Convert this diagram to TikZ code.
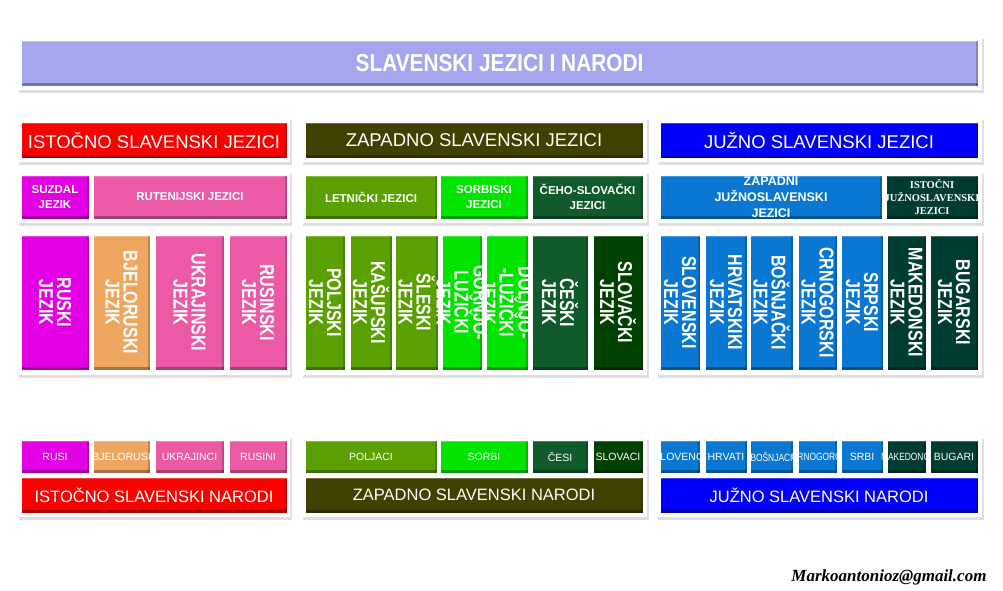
\documentclass[tikz,border=0pt]{standalone}
\usepackage{fontspec}
\setmainfont{Liberation Sans}
\newfontfamily\narrowfont[FakeStretch=0.8]{Liberation Sans}
\newfontfamily\titlefont[FakeStretch=0.85]{Liberation Sans}
\newfontfamily\seriffont{Liberation Serif}
\usetikzlibrary{shadows}

\definecolor{titlec}{RGB}{166,166,238}
\definecolor{eastc}{RGB}{250,0,0}
\definecolor{westc}{RGB}{64,64,0}
\definecolor{southc}{RGB}{0,0,250}
\definecolor{magc}{RGB}{228,0,228}
\definecolor{pinkc}{RGB}{236,90,166}
\definecolor{tanc}{RGB}{238,166,96}
\definecolor{grnc}{RGB}{90,160,0}
\definecolor{limec}{RGB}{0,228,0}
\definecolor{dgrnc}{RGB}{16,90,44}
\definecolor{vdgrnc}{RGB}{0,64,0}
\definecolor{bluec}{RGB}{10,120,210}
\definecolor{tealc}{RGB}{0,60,50}

\tikzset{
  frame/.style={fill=white, drop shadow={shadow xshift=1.5pt, shadow yshift=-2.5pt, opacity=.25}},
  tile/.style={draw=white, line width=1pt, inner sep=0pt,
    path picture={
      \fill[white,opacity=.25] (path picture bounding box.north west) rectangle ([yshift=-2pt]path picture bounding box.north east);
      \fill[black,opacity=.3] ([yshift=3pt]path picture bounding box.south west) rectangle (path picture bounding box.south east);
      \fill[black,opacity=.2] ([xshift=-2pt]path picture bounding box.north east) rectangle (path picture bounding box.south east);
    }},
  titletext/.style={text=white, font=\titlefont\bfseries\fontsize{24.5}{26}\selectfont},
  headtext/.style={text=white, font=\fontsize{18.5}{20}\selectfont},
  nartext/.style={text=white, font=\fontsize{16.5}{18}\selectfont},
  subtext/.style={text=white, align=center, font=\bfseries\fontsize{11.5}{15}\selectfont},
  coltext/.style={text=white, align=center, rotate=-90, font=\narrowfont\bfseries\fontsize{20}{18}\selectfont},
  smalltext/.style={text=white, font=\fontsize{10.5}{12}\selectfont},
}

% tile: name, x1, y1, x2, y2, colour
\newcommand{\tilebox}[6]{%
  \node[tile, fill=#6, minimum width={(#4-#2)*1pt}, minimum height={(#5-#3)*1pt}]
    (#1) at ({(#2+#4)/2},{(#3+#5)/2}) {};}

\begin{document}
\begin{tikzpicture}[x=1pt,y=-1pt]
\useasboundingbox (0,0) rectangle (1003,590);

% white frames behind the rows
\path[frame] (17,36) rectangle (982,90);
\foreach \xa/\xb in {17/290, 301/647, 656/982}{
  \path[frame] (\xa,117) rectangle (\xb,162);
  \path[frame] (\xa,171) rectangle (\xb,223);
  \path[frame] (\xa,230) rectangle (\xb,375);
  \path[frame] (\xa,436) rectangle (\xb,517);
}

% title
\tilebox{title}{21}{40}{978}{86}{titlec}
\node[titletext] (title-t) at (title) {SLAVENSKI JEZICI I NARODI};

% the three group headers
\tilebox{east}{21}{122}{287}{158}{eastc}
\node[headtext] (east-t) at (east) {ISTOČNO SLAVENSKI JEZICI};
\tilebox{west}{305}{122}{643}{158}{westc}
\node[headtext] (west-t) at (west) {ZAPADNO SLAVENSKI JEZICI};
\tilebox{south}{660}{122}{978}{158}{southc}
\node[headtext] (south-t) at (south) {JUŽNO SLAVENSKI JEZICI};

% subgroups
\foreach \nm/\xa/\xb/\col/\txt in {
    suzdal/21/89/magc/{SUZDAL\\JEZIK},
    rutenij/93/287/pinkc/{RUTENIJSKI JEZICI},
    letnic/305/437/grnc/{LETNIČKI JEZICI},
    sorbis/440/528/limec/{SORBISKI\\JEZICI},
    cehoslov/532/643/dgrnc/{ČEHO-SLOVAČKI\\JEZICI}}{
  \tilebox{\nm}{\xa}{175}{\xb}{219}{\col}
  \node[subtext] (\nm-t) at (\nm) {\txt};
}
\tilebox{zapjuz}{660}{175}{882}{219}{bluec}
\node[subtext, font=\bfseries\fontsize{12.5}{16}\selectfont] (zapjuz-t) at (zapjuz) {ZAPADNI\\JUŽNOSLAVENSKI\\JEZICI};
\tilebox{istjuz}{886}{175}{978}{219}{tealc}
\node[subtext, font=\seriffont\bfseries\fontsize{10.5}{13}\selectfont] (istjuz-t) at (istjuz) {ISTOČNI\\JUŽNOSLAVENSKI\\JEZICI};

% the languages, one column each
\foreach \nm/\xa/\xb/\col/\txt in {
    ruski/21/89/magc/{RUSKI\\JEZIK},
    bjelor/93/150/tanc/{BJELORUSKI\\JEZIK},
    ukraj/155/224/pinkc/{UKRAJINSKI\\JEZIK},
    rusin/229/287/pinkc/{RUSINSKI\\JEZIK},
    poljski/305/345/grnc/{POLJSKI\\JEZIK},
    kasup/350/392/grnc/{KAŠUPSKI\\JEZIK},
    sleski/395/438/grnc/{ŠLESKI\\JEZIK},
    gornjo/442/482/limec/{GORNJO-\\LUŽIČKI\\JEZIK},
    dolnjo/486/528/limec/{DOLNJO-\\-LUŽIČKI\\JEZIK},
    ceski/532/588/dgrnc/{ČEŠKI\\JEZIK},
    slovac/593/643/vdgrnc/{SLOVAČKI\\JEZIK},
    sloven/660/700/bluec/{SLOVENSKI\\JEZIK},
    hrvat/705/747/bluec/{HRVATSKIKI\\JEZIK},
    bosnj/750/793/bluec/{BOŠNJAČKI\\JEZIK},
    crnog/798/837/bluec/{CRNOGORSKI\\JEZIK},
    srpski/841/883/bluec/{SRPSKI\\JEZIK},
    maked/887/926/tealc/{MAKEDONSKI\\JEZIK},
    bugar/930/978/tealc/{BUGARSKI\\JEZIK}}{
  \tilebox{\nm}{\xa}{235}{\xb}{370}{\col}
  \node[coltext] (\nm-t) at (\nm) {\txt};
}

% the peoples
\foreach \nm/\xa/\xb/\col/\txt in {
    rusi/21/89/magc/RUSI,
    bjelorusi/93/150/tanc/BJELORUSI,
    ukrajinci/155/224/pinkc/UKRAJINCI,
    rusini/229/287/pinkc/RUSINI,
    poljaci/305/437/grnc/POLJACI,
    sorbi/440/528/limec/SORBI,
    cesi/532/588/dgrnc/ČESI,
    slovaci/593/643/vdgrnc/SLOVACI,
    slovenci/660/700/bluec/SLOVENCI,
    hrvati/705/747/bluec/HRVATI,
    bosnjaci/750/793/bluec/{\narrowfont BOŠNJACI},
    crnogorci/798/837/bluec/{\narrowfont CRNOGORCI},
    srbi/841/883/bluec/SRBI,
    makedonci/887/926/tealc/{\narrowfont MAKEDONCI},
    bugari/930/978/tealc/BUGARI}{
  \tilebox{\nm}{\xa}{440}{\xb}{473}{\col}
  \node[smalltext] (\nm-t) at (\nm) {\txt};
}

\tilebox{eastnar}{21}{477}{287}{513}{eastc}
\node[nartext] (eastnar-t) at (eastnar) {ISTOČNO SLAVENSKI NARODI};
\tilebox{westnar}{305}{477}{643}{513}{westc}
\node[nartext] (westnar-t) at (westnar) {ZAPADNO SLAVENSKI NARODI};
\tilebox{southnar}{660}{477}{978}{513}{southc}
\node[nartext] (southnar-t) at (southnar) {JUŽNO SLAVENSKI NARODI};

% signature
\node[anchor=east, font=\seriffont\bfseries\itshape\fontsize{17}{18}\selectfont] (mail) at (990,577) {Markoantonioz@gmail.com};
\end{tikzpicture}
\end{document}
